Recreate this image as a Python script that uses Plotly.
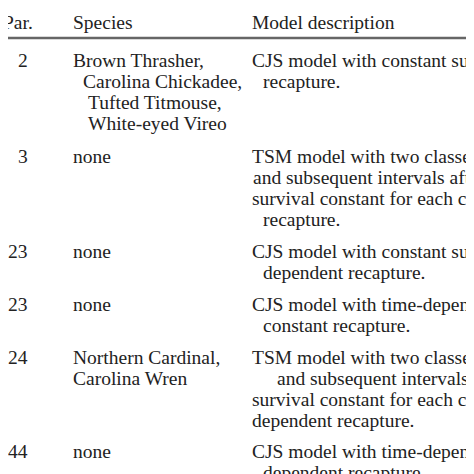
import plotly.graph_objects as go

# table content (cropped on left/right like the source)
headers = ["Par.", "Species", "Model description"]
n_par = ["2", "3", "23", "23", "24", "44"]
species = [
    ["Brown Thrasher,", "Carolina Chickadee,", "Tufted Titmouse,", "White-eyed Vireo"],
    ["none"],
    ["none"],
    ["none"],
    ["Northern Cardinal,", "Carolina Wren"],
    ["none"],
]
models = [
    ["CJS model with constant survival and", "recapture."],
    ["TSM model with two classes for first", "and subsequent intervals after", "survival constant for each class and", "recapture."],
    ["CJS model with constant survival and time-", "dependent recapture."],
    ["CJS model with time-dependent survival and", "constant recapture."],
    ["TSM model with two classes for first", "and subsequent intervals after", "survival constant for each class and time-", "dependent recapture."],
    ["CJS model with time-dependent survival and time-", "dependent recapture."],
]

# layout (pixels); page body has an 8px margin, so axis ranges are shifted by 8
OFF = 8
row_top = [52, 148, 243, 296, 349, 443]
line_h = 21
species_x = [[63, 73, 78, 78], [63], [63], [63], [63, 63], [63]]
model_x = [[242, 253], [242, 243, 242, 253], [242, 253], [242, 253], [242, 267, 242, 242], [242, 253]]

font = dict(family="Liberation Serif, Times New Roman, serif", size=19.5, color="#222")
ann = [dict(x=27, y=14, text=headers[0], xanchor="right")]
for x, t in zip([63, 242], headers[1:]):
    ann.append(dict(x=x, y=14, text=t))
for i, y0 in enumerate(row_top):
    px = 15 if len(n_par[i]) == 1 else 10
    ann.append(dict(x=px, y=y0, text=n_par[i], xanchor="center"))
    for j, s in enumerate(species[i]):
        ann.append(dict(x=species_x[i][j], y=y0 + j * line_h, text=s))
    for j, m in enumerate(models[i]):
        ann.append(dict(x=model_x[i][j], y=y0 + j * line_h, text=m))
for a in ann:
    a.setdefault("xanchor", "left")
    a.update(x=a["x"] + OFF, y=a["y"] + OFF, xref="x", yref="y",
             yanchor="middle", showarrow=False, font=font)

fig = go.Figure()
fig.update_layout(
    width=474, height=474,
    margin=dict(l=0, r=0, t=0, b=0),
    paper_bgcolor="white", plot_bgcolor="white",
    xaxis=dict(range=[OFF, 474 + OFF], visible=False, fixedrange=True),
    yaxis=dict(range=[474 + OFF, OFF], visible=False, fixedrange=True),
    annotations=ann,
    shapes=[dict(type="line", xref="x", yref="y", x0=0, x1=490, y0=30 + OFF, y1=30 + OFF,
                 line=dict(color="#666", width=2.5))],
    showlegend=False,
)
fig.write_html("out.html")
